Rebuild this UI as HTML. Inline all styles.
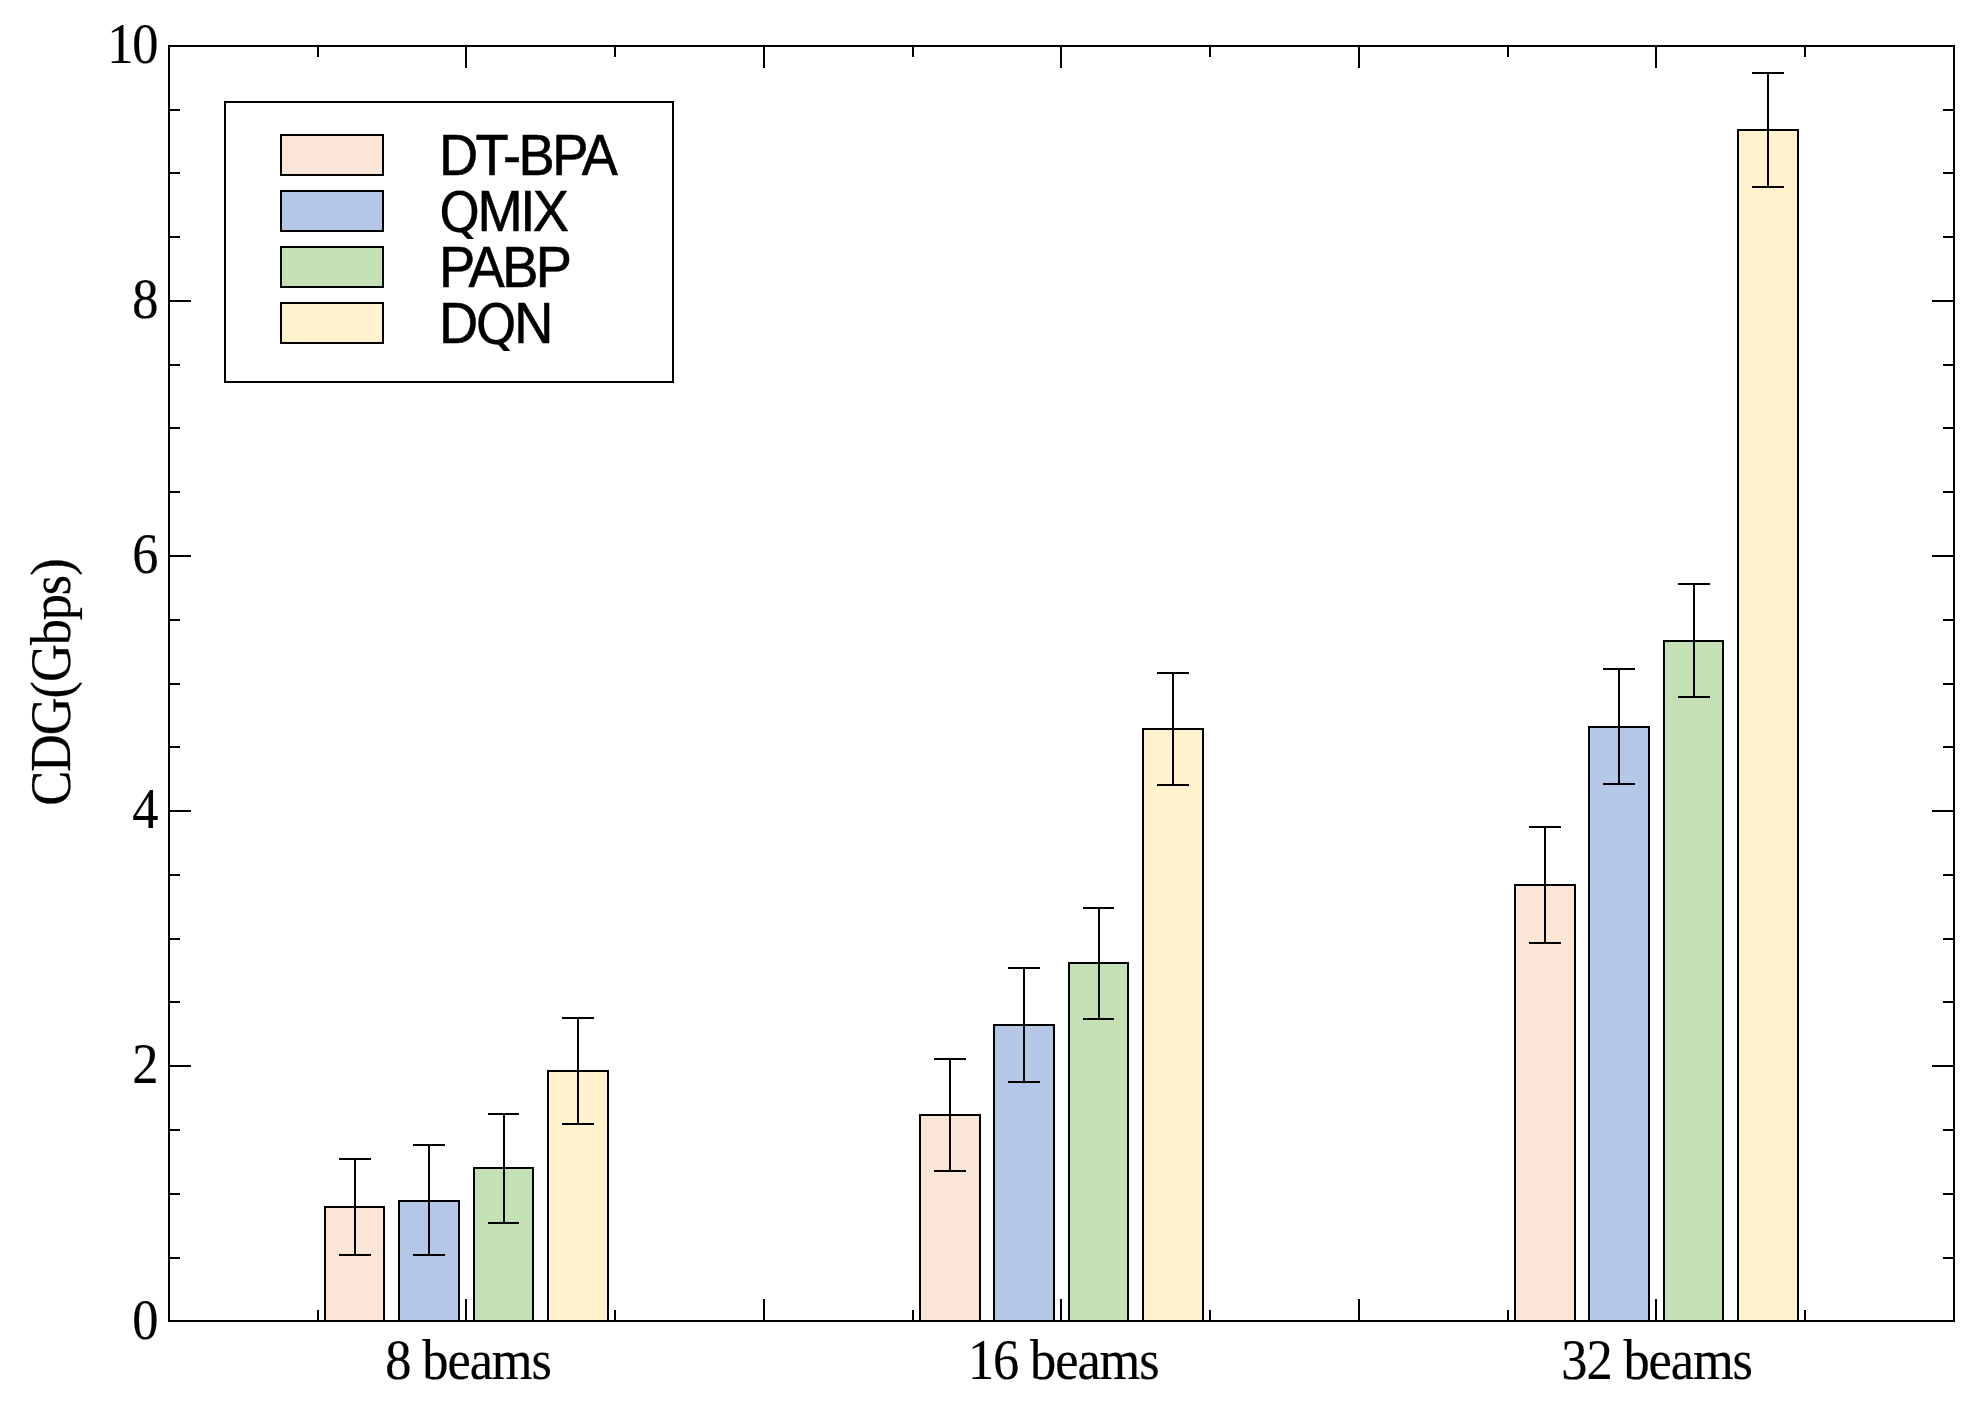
<!DOCTYPE html>
<html lang="en"><head><meta charset="utf-8"><title>CDG bar chart</title>
<style>html,body{margin:0;padding:0;background:#fff}body{width:1980px;height:1402px;overflow:hidden}svg{display:block}
.s{font-family:"Liberation Serif","Times New Roman",serif;font-size:58px;fill:#000;stroke:#000;stroke-width:.2px;letter-spacing:-1.20px}
.h{font-family:"Liberation Sans",Arial,sans-serif;font-size:56.5px;fill:#000;stroke:#000;stroke-width:.6px;letter-spacing:-2.70px}
.q{font-family:"DejaVu Sans","Liberation Sans",sans-serif;font-size:54.5px;stroke-width:.2px}
.k{stroke:#000;stroke-width:2;fill:none;stroke-linecap:butt}text{stroke-linejoin:round}
.b{stroke:#000;stroke-width:2}
</style></head><body>
<svg width="1980" height="1402" viewBox="0 0 1980 1402">
<rect x="0" y="0" width="1980" height="1402" fill="#fff"/>
<path class="k" d="M169 1258h11M1954 1258h-11M169 1194h11M1954 1194h-11M169 1130h11M1954 1130h-11M169 1066h22M1954 1066h-22M169 1002h11M1954 1002h-11M169 939h11M1954 939h-11M169 875h11M1954 875h-11M169 811h22M1954 811h-22M169 747h11M1954 747h-11M169 684h11M1954 684h-11M169 620h11M1954 620h-11M169 556h22M1954 556h-22M169 492h11M1954 492h-11M169 428h11M1954 428h-11M169 365h11M1954 365h-11M169 301h22M1954 301h-22M169 237h11M1954 237h-11M169 173h11M1954 173h-11M169 110h11M1954 110h-11M318 1321v-11M318 46v11M466 1321v-22M466 46v22M615 1321v-11M615 46v11M764 1321v-22M764 46v22M913 1321v-11M913 46v11M1061 1321v-22M1061 46v22M1210 1321v-11M1210 46v11M1359 1321v-22M1359 46v22M1508 1321v-11M1508 46v11M1656 1321v-22M1656 46v22M1805 1321v-11M1805 46v11"/>
<rect class="b" x="325" y="1207" width="59" height="114" fill="#FBE5D6"/>
<rect class="b" x="399" y="1201" width="60" height="120" fill="#B4C7E7"/>
<rect class="b" x="474" y="1168" width="59" height="153" fill="#C5E0B4"/>
<rect class="b" x="548" y="1071" width="60" height="250" fill="#FFF2CC"/>
<rect class="b" x="920" y="1115" width="60" height="206" fill="#FBE5D6"/>
<rect class="b" x="994" y="1025" width="60" height="296" fill="#B4C7E7"/>
<rect class="b" x="1069" y="963" width="59" height="358" fill="#C5E0B4"/>
<rect class="b" x="1143" y="729" width="60" height="592" fill="#FFF2CC"/>
<rect class="b" x="1515" y="885" width="60" height="436" fill="#FBE5D6"/>
<rect class="b" x="1589" y="727" width="60" height="594" fill="#B4C7E7"/>
<rect class="b" x="1664" y="641" width="59" height="680" fill="#C5E0B4"/>
<rect class="b" x="1738" y="130" width="60" height="1191" fill="#FFF2CC"/>
<path class="k" d="M355 1159V1255M339 1159h32M339 1255h32M429 1145V1255M413 1145h32M413 1255h32M504 1114V1223M488 1114h31M488 1223h31M578 1018V1124M562 1018h32M562 1124h32M950 1059V1171M934 1059h32M934 1171h32M1024 968V1082M1008 968h32M1008 1082h32M1099 908V1019M1083 908h31M1083 1019h31M1173 673V785M1157 673h32M1157 785h32M1545 827V943M1529 827h32M1529 943h32M1619 669V784M1603 669h32M1603 784h32M1694 584V697M1678 584h32M1678 697h32M1768 73V187M1752 73h32M1752 187h32"/>
<rect class="k" x="169" y="46" width="1785" height="1275"/>
<rect class="b" x="225" y="102" width="448" height="280" fill="#fff"/>
<rect class="b" x="281" y="135" width="102" height="40" fill="#FBE5D6"/>
<text class="h" transform="translate(439.0 175.0) scale(0.960 1)">DT-BPA</text>
<rect class="b" x="281" y="191" width="102" height="40" fill="#B4C7E7"/>
<text class="h" transform="translate(439.0 231.0) scale(0.960 1)"><tspan class="q">Q</tspan>MIX</text>
<rect class="b" x="281" y="247" width="102" height="40" fill="#C5E0B4"/>
<text class="h" transform="translate(439.0 287.0) scale(0.960 1)">PABP</text>
<rect class="b" x="281" y="303" width="102" height="40" fill="#FFF2CC"/>
<text class="h" transform="translate(439.0 343.0) scale(0.960 1)">D<tspan class="q">Q</tspan>N</text>
<text class="s" transform="translate(157.4 1338.7) scale(0.903 1)" text-anchor="end">0</text>
<text class="s" transform="translate(157.4 1082.7) scale(0.903 1)" text-anchor="end">2</text>
<text class="s" transform="translate(157.4 827.7) scale(0.903 1)" text-anchor="end">4</text>
<text class="s" transform="translate(157.4 572.7) scale(0.903 1)" text-anchor="end">6</text>
<text class="s" transform="translate(157.4 317.7) scale(0.903 1)" text-anchor="end">8</text>
<text class="s" transform="translate(157.4 62.7) scale(0.903 1)" text-anchor="end">10</text>
<text class="s" transform="translate(468.0 1379) scale(0.903 1)" text-anchor="middle">8 beams</text>
<text class="s" transform="translate(1063.2 1379) scale(0.903 1)" text-anchor="middle">16 beams</text>
<text class="s" transform="translate(1656.6 1379) scale(0.903 1)" text-anchor="middle">32 beams</text>
<text class="s" transform="translate(69.6 682.6) rotate(-90) scale(0.903 1)" text-anchor="middle">CDG(Gbps)</text>
</svg></body></html>
